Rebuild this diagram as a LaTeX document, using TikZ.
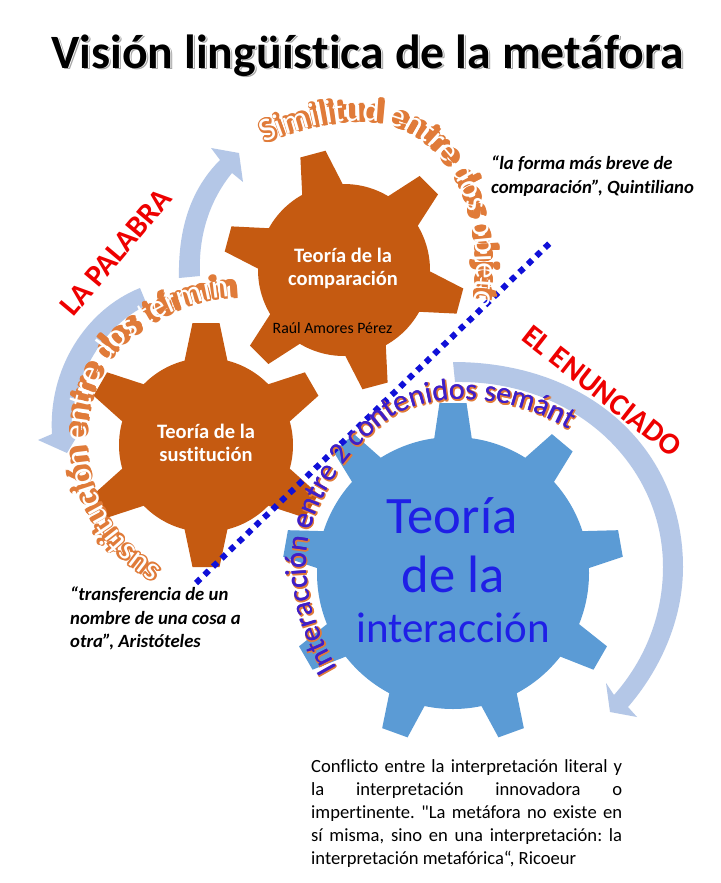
\documentclass[tikz,border=0pt]{standalone}
\usepackage{fontspec}
\setmainfont{Carlito}[Ligatures={TeXOff,CommonOff}]
\usetikzlibrary{decorations.text}
\definecolor{gearor}{HTML}{C55A11}
\definecolor{gearbl}{HTML}{5B9BD5}
\definecolor{arrowbl}{HTML}{B4C7E7}
\definecolor{artor}{HTML}{E07B39}
\definecolor{artvi}{HTML}{3F1FC8}
\definecolor{dotbl}{HTML}{1010D8}
\definecolor{bigbl}{HTML}{1F1FE6}
\definecolor{redlab}{HTML}{EE0000}
\newcommand\artsize{\fontsize{33}{36}\selectfont}
\newcommand\visize{\fontsize{30}{34}\selectfont}
\tikzset{
  blockarrow/.style={fill=arrowbl,draw=none},
  redlabel/.style={text=redlab,font=\fontsize{30.5}{36}\selectfont\bfseries,inner sep=0pt},
  quotelabel/.style={text=black,font=\fontsize{18.7}{23.5}\selectfont\bfseries\itshape,align=left,anchor=north west,inner sep=0pt},
  geartext/.style={text=white,font=\fontsize{20.5}{23}\selectfont\bfseries,align=center,inner sep=0pt},
  bigtext/.style={text=bigbl,inner sep=0pt},
  titletext/.style={font=\fontsize{47.9}{50}\selectfont\bfseries,inner sep=0pt,anchor=base}
}
% x, y, body radius, tip radius, first angle (clockwise from up), count, tip half width, base half width, colour
\newcommand\cogwheel[9]{%
  \fill[#9] (#1,#2) circle[radius=#3];
  \foreach \cogi in {1,...,#6}{%
    \pgfmathsetmacro\coga{-(#5)-360/#6*\cogi}
    \fill[#9,shift={(#1,#2)},rotate=\coga] (-#7,-#4) -- (#7,-#4) -- (#8,{-(#3)+3}) -- (-#8,{-(#3)+3}) -- cycle;
  }}
% path, text
\newcommand\arttext[2]{%
  \foreach \ox/\oy in {1.6/1.6,1.2/0,-1.2/0,0/1.2,0/-1.2,.9/.9,-.9/-.9,.9/-.9,-.9/.9}{%
    \path[xshift=\ox pt,yshift=-\oy pt,decorate,decoration={text along path,text align={fit to path},
      text={|\artsize\bfseries\color{artor}|#2}}] #1;
  }
  \path[decorate,decoration={text along path,text align={fit to path},
      text={|\artsize\color{white}|#2}}] #1;
}
\newcommand\violettext[2]{%
  \foreach \ox/\oy in {1.5/1.5,2/.8,.8/2,1/1}{%
    \path[xshift=\ox pt,yshift=-\oy pt,decorate,decoration={text along path,text align={fit to path},
      text={|\visize\color{artor}|#2}}] #1;
  }
  \foreach \ox in {0,.25}{%
    \path[xshift=\ox pt,decorate,decoration={text along path,text align={fit to path},
      text={|\visize\color{artvi}|#2}}] #1;
  }
}
\begin{document}
\begin{tikzpicture}[x=1pt,y=-1pt]
\fill[white] (0,0) rectangle (720,883);
\useasboundingbox (0,0) rectangle (720,883);

% gears
\cogwheel{206}{445}{87}{122}{0}{6}{13.5}{21.5}{gearor}
\cogwheel{344}{270}{86}{120}{-15}{6}{13}{21}{gearor}
\cogwheel{453}{573}{136}{170}{0}{9}{13.5}{19}{gearbl}

% curved block arrows
\fill[blockarrow] (179,278) .. controls (178,230) and (190,190) .. (220,160)
  -- (211,148) -- (239,153) -- (243,182) -- (232,173)
  .. controls (210,200) and (198,235) .. (200,276) -- cycle;
\fill[blockarrow] (140,288) .. controls (85,310) and (48,370) .. (52,434)
  -- (38,440) -- (67,453) -- (82,428) -- (72,432)
  .. controls (72,375) and (105,325) .. (147,305) -- cycle;
\fill[blockarrow] (453,362) .. controls (590,362) and (683,450) .. (683,567)
  .. controls (683,620) and (660,670) .. (628,707)
  -- (637,717) -- (610,712) -- (606,683) -- (614,695)
  .. controls (645,660) and (663,615) .. (663,567)
  .. controls (663,465) and (575,380) .. (455,382) -- cycle;

% dotted divider
\coordinate (divA) at (196,583);
\coordinate (divB) at (553,240);
\draw[dotbl,line width=6pt,dash pattern=on 6pt off 5.8pt] (divA) -- (divB);

% WordArt texts
\arttext{(265,143) .. controls (300,127) and (340,118) .. (377,122) .. controls (420,128) and (452,160) .. (467,205) .. controls (478,240) and (478,275) .. (473,306)}{Similitud entre dos objetos}
\arttext{(162,568) .. controls (125,548) and (88,505) .. (87,440) .. controls (86,395) and (105,355) .. (137,333) .. controls (165,312) and (200,298) .. (233,297)}{sustitución entre dos términos}
\violettext{(337,668) .. controls (312,625) and (300,575) .. (309,535) .. controls (318,495) and (350,445) .. (395,415) .. controls (440,390) and (510,395) .. (567,428)}{Interacción entre 2 contenidos semánticos}

% title
\node[titletext,text=gray!70] (titleshadow) at (369.5,70) {Visión lingüística de la metáfora};
\node[titletext,text=white] (titleglow) at (368.5,69) {Visión lingüística de la metáfora};
\node[titletext,text=black] (title) at (367.5,68) {Visión lingüística de la metáfora};

% red labels
\node[redlabel,rotate=50] (palabra) at (116,252) {LA PALABRA};
\node[redlabel,rotate=-38] (enunciado) at (602,391) {EL ENUNCIADO};

% quotations
\node[quotelabel] (quint) at (491,156) {“la forma más breve de\\comparación”,  Quintiliano};
\node[quotelabel] (arist) at (70,587) {“transferencia de un\\nombre de una cosa a\\otra”,  Aristóteles};

% gear texts
\node[geartext] (comp) at (343,268) {Teoría  de la\\comparación};
\node[geartext] (sust) at (206,443) {Teoría  de la\\sustitución};
\node[inner sep=0pt,font=\fontsize{15.8}{18}\selectfont] (autor) at (332.5,328) {Raúl Amores  Pérez};
\node[bigtext,font=\fontsize{52.6}{60}\selectfont] (inter1) at (452,516) {Teoría};
\node[bigtext,font=\fontsize{52.6}{60}\selectfont] (inter2) at (453,574) {de la};
\node[bigtext,font=\fontsize{43}{44}\selectfont] (inter3) at (453,628) {interacción};

% paragraph
\node[anchor=north west,inner sep=0pt,align=left,font=\fontsize{18.6}{23.2}\selectfont\frenchspacing] (para) at (311,759) {%
\makebox[311pt][s]{Conflicto entre la interpretación literal y}\\
\makebox[311pt][s]{la interpretación innovadora o}\\
\makebox[311pt][s]{impertinente. "La metáfora no existe en}\\
\makebox[311pt][s]{sí misma, sino en una interpretación: la}\\
interpretación metafórica“, Ricoeur};
\end{tikzpicture}
\end{document}
